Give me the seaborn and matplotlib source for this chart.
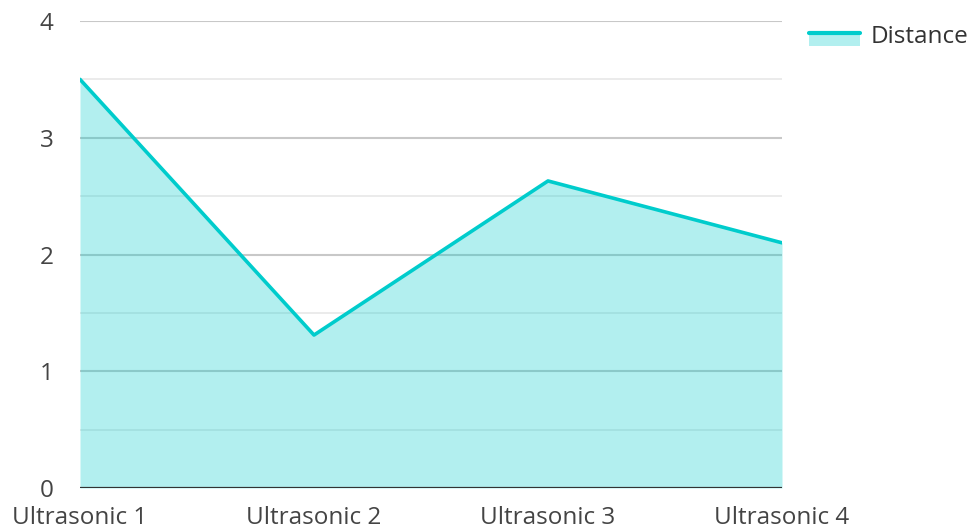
import matplotlib
matplotlib.use('Agg')
import matplotlib.pyplot as plt
import seaborn as sns
import pandas as pd
from matplotlib.legend_handler import HandlerBase
from matplotlib.patches import Rectangle
from matplotlib.lines import Line2D

# data
sensors = ['Ultrasonic 1', 'Ultrasonic 2', 'Ultrasonic 3', 'Ultrasonic 4']
distance = [3.5, 1.31, 2.63, 2.10]

line_color = '#00cccc'
fill_alpha = 0.3

sns.set_style('white')
plt.rcParams['font.family'] = ['Open Sans', 'DejaVu Sans']

df = pd.DataFrame({'sensor': sensors, 'distance': distance})
df['pos'] = range(len(df))

fig = plt.figure(figsize=(9.69, 5.29), dpi=100)
ax = fig.add_axes([80 / 969, 41 / 529, 702 / 969, 467 / 529])

# grid lines under the translucent fill
for v in [0.5, 1.5, 2.5, 3.5]:
    ax.axhline(v, color='#e6e6e6', lw=1.1, zorder=0)
for v in [1, 2, 3, 4]:
    ax.axhline(v, color='#c8c8c8', lw=1.5, zorder=0)

ax.fill_between(df['pos'], df['distance'], 0, color=line_color, alpha=fill_alpha, lw=0, zorder=1)
sns.lineplot(data=df, x='pos', y='distance', color=line_color, lw=2.6, ax=ax, zorder=4)
ax.axhline(0, color='#333333', lw=1.6, zorder=5)

ax.set_xlim(0, 3)
ax.set_ylim(0, 4)
ax.set_yticks([0, 1, 2, 3, 4])
ax.set_xticks(df['pos'])
ax.set_xticklabels(sensors)
ax.tick_params(axis='both', length=0, labelsize=17.5, colors='#444444')
ax.tick_params(axis='y', pad=19)
ax.tick_params(axis='x', pad=13)
for s in ax.spines.values():
    s.set_visible(False)
ax.set_xlabel('')
ax.set_ylabel('')


class AreaHandler(HandlerBase):
    def create_artists(self, legend, orig, xd, yd, w, h, fontsize, trans):
        rect = Rectangle((-xd, -yd - 0.2 * h), w, h * 0.9, facecolor=line_color,
                         alpha=fill_alpha, edgecolor='none', transform=trans)
        ln = Line2D([-xd, -xd + w], [-yd + 0.6 * h, -yd + 0.6 * h],
                    color=line_color, lw=3, transform=trans)
        return [rect, ln]


handle = Rectangle((0, 0), 1, 1)
fig.legend([handle], ['Distance'], handler_map={Rectangle: AreaHandler()},
           loc='upper left', bbox_to_anchor=(787 / 969, 1 - 3 / 529),
           frameon=False, fontsize=17.5, handlelength=2.1, handletextpad=0.45,
           labelcolor='#333333')

fig.savefig('out.png', dpi=100)
